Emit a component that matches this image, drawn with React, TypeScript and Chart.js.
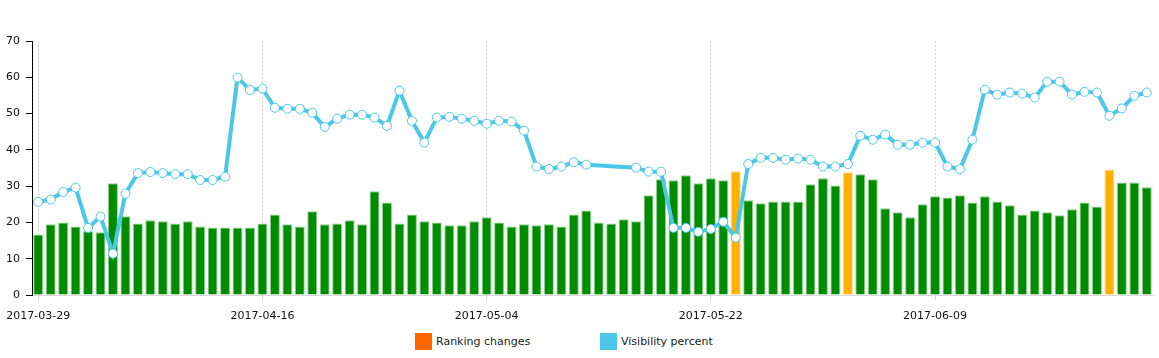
import React, { useEffect, useRef } from 'react';
import { Chart, registerables } from 'chart.js';

Chart.register(...registerables);

const firstDay = '2017-03-29';
const dayCount = 90;

const tickLabels = ['2017-03-29', '2017-04-16', '2017-05-04', '2017-05-22', '2017-06-09'];

const highlightDays = ['2017-05-24', '2017-06-02', '2017-06-23'];

const rankingChanges = [
  16.7, 19.5, 20.0, 18.9, 17.6, 17.3, 30.8, 21.7, 19.7, 20.6,
  20.3, 19.7, 20.3, 18.9, 18.6, 18.6, 18.6, 18.6, 19.7, 22.2,
  19.5, 18.9, 23.1, 19.5, 19.7, 20.6, 19.5, 28.6, 25.5, 19.7,
  22.2, 20.3, 20.0, 19.2, 19.2, 20.3, 21.4, 20.0, 18.9, 19.5,
  19.2, 19.5, 18.9, 22.2, 23.3, 20.0, 19.7, 20.9, 20.3, 27.5,
  31.9, 31.6, 33.0, 30.8, 32.2, 31.6, 34.1, 26.1, 25.3, 25.8,
  25.8, 25.8, 30.5, 32.2, 30.2, 33.8, 33.3, 31.9, 23.9, 22.8,
  21.4, 25.0, 27.2, 26.9, 27.5, 25.5, 27.2, 25.8, 24.7, 22.2,
  23.3, 22.8, 22.0, 23.6, 25.5, 24.4, 34.6, 31.0, 31.0, 29.7,
];

const visibilityPercent: (number | null)[] = [
  25.7, 26.3, 28.4, 29.6, 18.5, 21.6, 11.4, 27.9, 33.6, 33.9,
  33.6, 33.3, 33.3, 31.7, 31.7, 32.6, 59.9, 56.5, 56.9, 51.6,
  51.3, 51.3, 50.2, 46.3, 48.6, 49.7, 49.7, 48.9, 46.6, 56.3,
  48.0, 42.0, 48.9, 49.1, 48.6, 48.0, 47.2, 48.0, 47.8, 45.3,
  35.4, 34.7, 35.4, 36.6, 35.9, null, null, null, 35.1, 34.0,
  34.0, 18.5, 18.5, 17.4, 18.2, 20.2, 15.8, 36.1, 37.8, 37.8,
  37.3, 37.6, 37.3, 35.4, 35.4, 36.1, 43.9, 42.8, 44.2, 41.4,
  41.4, 42.0, 42.0, 35.4, 34.7, 42.8, 56.6, 55.2, 55.8, 55.5,
  54.4, 58.8, 58.8, 55.2, 56.0, 55.8, 49.4, 51.4, 54.9, 55.8,
];

const yTicks = { min: 0, max: 70, step: 10 };

function buildDates(start: string, n: number): string[] {
  const out: string[] = [];
  const d = new Date(start + 'T00:00:00Z');
  for (let i = 0; i < n; i++) {
    out.push(d.toISOString().slice(0, 10));
    d.setUTCDate(d.getUTCDate() + 1);
  }
  return out;
}

const dates = buildDates(firstDay, dayCount);

const GREEN = '#008C00';
const GREEN_BORDER = '#8ED08E';
const AMBER = '#FFB000';
const AMBER_BORDER = '#FFD585';
const LEGEND_ORANGE = '#FF6600';
const BLUE = '#4BC8E8';
const FONT = "'DejaVu Sans', Verdana, sans-serif";

export default function App() {
  const canvasRef = useRef<HTMLCanvasElement | null>(null);

  useEffect(() => {
    const canvas = canvasRef.current;
    if (!canvas) return;
    Chart.defaults.font.family = FONT;
    Chart.defaults.font.size = 11;
    Chart.defaults.color = '#111';

    const chart = new Chart(canvas, {
      type: 'bar',
      data: {
        labels: dates,
        datasets: [
          {
            type: 'line',
            label: 'Visibility percent',
            data: visibilityPercent,
            borderColor: BLUE,
            borderWidth: 4,
            backgroundColor: BLUE,
            pointBackgroundColor: '#fff',
            pointBorderColor: BLUE,
            pointBorderWidth: 1,
            pointRadius: 4.5,
            tension: 0,
            spanGaps: true,
            order: 1,
          } as any,
          {
            type: 'bar',
            label: 'Ranking changes',
            data: rankingChanges,
            backgroundColor: dates.map((d) => (highlightDays.includes(d) ? AMBER : GREEN)),
            borderColor: dates.map((d) => (highlightDays.includes(d) ? AMBER_BORDER : GREEN_BORDER)),
            borderWidth: 1,
            categoryPercentage: 1,
            barPercentage: 0.8,
            order: 2,
          },
        ],
      },
      options: {
        responsive: false,
        animation: false,
        devicePixelRatio: 1,
        layout: { padding: { top: 41, right: 6, left: 0, bottom: 0 } },
        plugins: {
          legend: { display: false },
          tooltip: { enabled: false },
        },
        scales: {
          x: {
            type: 'category',
            offset: true,
            grid: {
              offset: false,
              drawOnChartArea: true,
              drawTicks: true,
              tickLength: 5,
              color: (ctx: any) =>
                tickLabels.includes(dates[ctx.index]) ? '#d4d4d4' : 'rgba(0,0,0,0)',
              lineWidth: 1,
            },
            border: { display: true, color: '#d9d9d9', width: 1, dash: [2, 2] },
            ticks: {
              autoSkip: false,
              maxRotation: 0,
              minRotation: 0,
              padding: 10,
              color: '#111',
              font: { size: 11, family: FONT },
              callback: (_v: any, i: number) => (tickLabels.includes(dates[i]) ? dates[i] : ''),
            },
            afterFit: (scale: any) => {
              scale.height = 31;
              scale.paddingLeft = 0;
              scale.paddingRight = 0;
            },
          },
          y: {
            min: yTicks.min,
            max: yTicks.max,
            grid: {
              drawOnChartArea: false,
              drawTicks: true,
              tickLength: 6,
              color: '#000',
            },
            border: { display: true, color: '#000', width: 1 },
            ticks: {
              stepSize: yTicks.step,
              padding: 6,
              color: '#111',
              font: { size: 11, family: FONT },
            },
            afterFit: (scale: any) => {
              scale.width = 32;
            },
          },
        },
      },
    });
    return () => chart.destroy();
  }, []);

  const legendItem = (color: string, text: string, left: number) => (
    <div
      style={{
        position: 'absolute',
        left,
        top: 333,
        display: 'flex',
        alignItems: 'center',
        fontFamily: FONT,
        fontSize: 11,
        color: '#222',
        whiteSpace: 'nowrap',
      }}
    >
      <span style={{ display: 'inline-block', width: 17, height: 17, background: color, marginRight: 4 }} />
      <span>{text}</span>
    </div>
  );

  return (
    <div style={{ position: 'relative', width: 1159, height: 358, background: '#fff' }}>
      <style>{`html,body{margin:0;padding:0;background:#fff;}`}</style>
      <canvas ref={canvasRef} width={1159} height={326} style={{ display: 'block' }} />
      {legendItem(LEGEND_ORANGE, 'Ranking changes', 415)}
      {legendItem(BLUE, 'Visibility percent', 600)}
    </div>
  );
}
